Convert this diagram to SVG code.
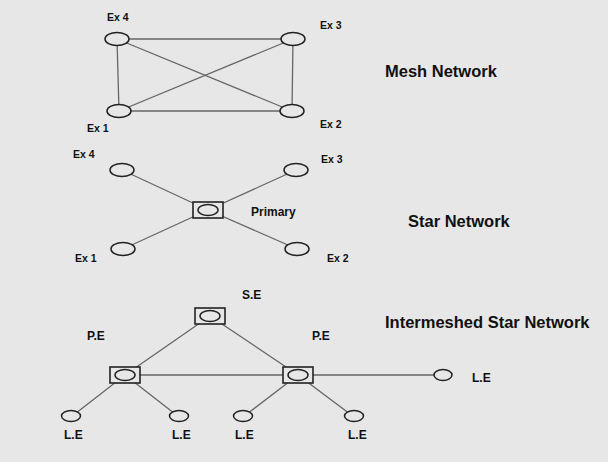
<svg xmlns="http://www.w3.org/2000/svg" width="608" height="462" viewBox="0 0 608 462">
<style>
.bg{fill:#e7e7e7}
.ln{stroke:#666;stroke-width:1.3;fill:none}
.nd{fill:#e7e7e7;stroke:#222;stroke-width:1.5}
.bx{fill:#e7e7e7;stroke:#222;stroke-width:1.6}
.lb{font-family:"Liberation Sans",Arial,sans-serif;font-weight:bold;font-size:10.5px;fill:#111}
.lb2{font-family:"Liberation Sans",Arial,sans-serif;font-weight:bold;font-size:12px;fill:#111}
.tt{font-family:"Liberation Sans",Arial,sans-serif;font-weight:bold;font-size:16.5px;fill:#111}
</style>
<rect class="bg" x="0" y="0" width="608" height="462"/>
<g id="connectors">
<line class="ln" x1="117" y1="39" x2="293" y2="39"/>
<line class="ln" x1="119" y1="111" x2="292" y2="111"/>
<line class="ln" x1="117" y1="39" x2="119" y2="111"/>
<line class="ln" x1="293" y1="39" x2="292" y2="111"/>
<line class="ln" x1="117" y1="39" x2="292" y2="111"/>
<line class="ln" x1="293" y1="39" x2="119" y2="111"/>
<line class="ln" x1="122" y1="170" x2="208" y2="210"/>
<line class="ln" x1="296" y1="170" x2="208" y2="210"/>
<line class="ln" x1="123" y1="249" x2="208" y2="210"/>
<line class="ln" x1="297" y1="249" x2="208" y2="210"/>
<line class="ln" x1="210" y1="316" x2="125" y2="375"/>
<line class="ln" x1="210" y1="316" x2="298" y2="375"/>
<line class="ln" x1="125" y1="375" x2="443" y2="375"/>
<line class="ln" x1="125" y1="375" x2="71" y2="417"/>
<line class="ln" x1="125" y1="375" x2="179" y2="417"/>
<line class="ln" x1="298" y1="375" x2="243" y2="417"/>
<line class="ln" x1="298" y1="375" x2="354" y2="417"/>
</g>
<g id="mesh-ex4"><ellipse class="nd" cx="117" cy="39" rx="12" ry="6.5"/><text class="lb" x="107" y="21">Ex 4</text></g>
<g id="mesh-ex3"><ellipse class="nd" cx="293" cy="39" rx="12" ry="6.5"/><text class="lb" x="320" y="29">Ex 3</text></g>
<g id="mesh-ex1"><ellipse class="nd" cx="119" cy="111" rx="12" ry="6.5"/><text class="lb" x="87" y="132">Ex 1</text></g>
<g id="mesh-ex2"><ellipse class="nd" cx="292" cy="111" rx="12" ry="6.5"/><text class="lb" x="320" y="128">Ex 2</text></g>
<g id="mesh-title"><text class="tt" x="385" y="77">Mesh Network</text></g>
<g id="star-ex4"><ellipse class="nd" cx="122" cy="170" rx="12" ry="6.5"/><text class="lb" x="73" y="158">Ex 4</text></g>
<g id="star-ex3"><ellipse class="nd" cx="296" cy="170" rx="12" ry="6.5"/><text class="lb" x="321" y="163">Ex 3</text></g>
<g id="star-ex1"><ellipse class="nd" cx="123" cy="249" rx="12" ry="6.5"/><text class="lb" x="75" y="262">Ex 1</text></g>
<g id="star-ex2"><ellipse class="nd" cx="297" cy="249" rx="12" ry="6.5"/><text class="lb" x="327" y="262">Ex 2</text></g>
<g id="star-primary"><rect class="bx" x="193" y="202" width="30" height="16"/><ellipse class="nd" cx="208" cy="210" rx="10" ry="5.5"/><text class="lb2" x="251" y="216">Primary</text></g>
<g id="star-title"><text class="tt" x="408" y="227">Star Network</text></g>
<g id="ise-se"><rect class="bx" x="195" y="308" width="30" height="16"/><ellipse class="nd" cx="210" cy="316" rx="10" ry="5.5"/><text class="lb2" x="242" y="299">S.E</text></g>
<g id="ise-pe1"><rect class="bx" x="110" y="367" width="30" height="16"/><ellipse class="nd" cx="125" cy="375" rx="10" ry="5.5"/><text class="lb2" x="87" y="340">P.E</text></g>
<g id="ise-pe2"><rect class="bx" x="283" y="367" width="30" height="16"/><ellipse class="nd" cx="298" cy="375" rx="10" ry="5.5"/><text class="lb2" x="312" y="340">P.E</text></g>
<g id="ise-le5"><ellipse class="nd" cx="443" cy="375" rx="9" ry="5.5"/><text class="lb2" x="472" y="382">L.E</text></g>
<g id="ise-le1"><ellipse class="nd" cx="71" cy="416" rx="9.5" ry="5.5"/><text class="lb2" x="64" y="439">L.E</text></g>
<g id="ise-le2"><ellipse class="nd" cx="179" cy="416" rx="9.5" ry="5.5"/><text class="lb2" x="172" y="439">L.E</text></g>
<g id="ise-le3"><ellipse class="nd" cx="243" cy="416" rx="9.5" ry="5.5"/><text class="lb2" x="235" y="439">L.E</text></g>
<g id="ise-le4"><ellipse class="nd" cx="354" cy="416" rx="9.5" ry="5.5"/><text class="lb2" x="348" y="439">L.E</text></g>
<g id="ise-title"><text class="tt" x="385" y="328">Intermeshed Star Network</text></g>
</svg>
